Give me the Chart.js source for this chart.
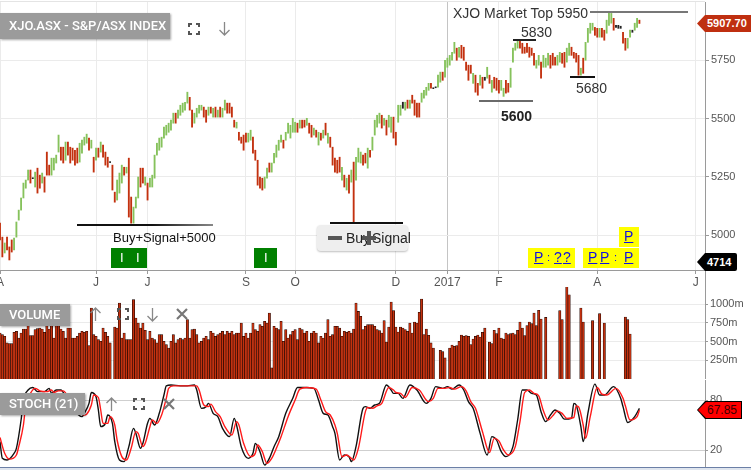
<!DOCTYPE html>
<html><head><meta charset="utf-8">
<script src="https://cdn.jsdelivr.net/npm/chart.js@4.4.1/dist/chart.umd.min.js"></script>
<style>
html,body{margin:0;padding:0;background:#fff;width:751px;height:470px;overflow:hidden;font-family:"Liberation Sans",Arial,sans-serif;}
canvas{position:absolute;left:0;}
.abs{position:absolute;}
.lbl{position:absolute;left:0;background:#9b9b9b;color:#fff;font:500 13px Roboto,"Liberation Sans",sans-serif;padding-left:9px;box-sizing:border-box;box-shadow:1px 1px 2px rgba(0,0,0,.35);white-space:nowrap;}
.txt{position:absolute;white-space:nowrap;color:#333;font-size:14px;line-height:14px;}
.hl{position:absolute;height:2px;}
.tag{position:absolute;color:#fff;font-weight:bold;font-size:11px;line-height:17px;box-sizing:border-box;padding-left:10px;clip-path:polygon(0 50%,8px 0,100% 0,100% 100%,8px 100%);}
.gbox{position:absolute;background:#008000;height:20px;top:248px;}
.ybox{position:absolute;background:#ffff00;height:20px;}
.gi{position:absolute;color:#fff;font-size:13px;line-height:20px;top:0;}
.yp{position:absolute;color:#1010e0;font-size:14px;line-height:18px;top:0;text-decoration:underline;}
</style></head><body>
<canvas id="cPrice" width="751" height="290" style="top:0"></canvas>
<canvas id="cVol" width="751" height="92" style="top:287px"></canvas>
<canvas id="cSto" width="751" height="90" style="top:380px"></canvas>

<div class="abs" style="left:0;top:1px;width:705px;height:1px;background:#e4e4e4"></div>
<div class="abs" style="left:705px;top:270px;width:1px;height:17px;background:#999"></div>

<!-- panel labels -->
<div class="lbl" style="top:13px;width:170px;height:26px;line-height:26px">XJO.ASX - S&amp;P/ASX INDEX</div>
<svg class="abs" style="left:188px;top:23px" width="12" height="12"><path d="M1 4V1H4M8 1H11V4M11 8V11H8M4 11H1V8" fill="none" stroke="#555" stroke-width="2"/></svg>
<svg class="abs" style="left:218px;top:21px" width="13" height="15"><path d="M6.5 1V14M1.5 9L6.5 14L11.5 9" fill="none" stroke="#888" stroke-width="1.3"/></svg>

<div class="lbl" style="top:304px;width:70px;height:22px;line-height:22px">VOLUME</div>
<svg class="abs" style="left:89px;top:307px" width="13" height="15"><path d="M6.5 14V1M1.5 6L6.5 1L11.5 6" fill="none" stroke="#888" stroke-width="1.3"/></svg>
<svg class="abs" style="left:117px;top:308px" width="12" height="12"><path d="M1 4V1H4M8 1H11V4M11 8V11H8M4 11H1V8" fill="none" stroke="#555" stroke-width="2"/></svg>
<svg class="abs" style="left:146px;top:307px" width="13" height="15"><path d="M6.5 1V14M1.5 9L6.5 14L11.5 9" fill="none" stroke="#888" stroke-width="1.3"/></svg>
<svg class="abs" style="left:176px;top:308px" width="12" height="12"><path d="M1 1L11 11M11 1L1 11" fill="none" stroke="#777" stroke-width="2.2"/></svg>

<div class="lbl" style="top:393px;width:85px;height:22px;line-height:22px">STOCH (21)</div>
<svg class="abs" style="left:105px;top:397px" width="13" height="15"><path d="M6.5 14V1M1.5 6L6.5 1L11.5 6" fill="none" stroke="#888" stroke-width="1.3"/></svg>
<svg class="abs" style="left:133px;top:398px" width="12" height="12"><path d="M1 4V1H4M8 1H11V4M11 8V11H8M4 11H1V8" fill="none" stroke="#555" stroke-width="2"/></svg>
<svg class="abs" style="left:163px;top:398px" width="12" height="12"><path d="M1 1L11 11M11 1L1 11" fill="none" stroke="#777" stroke-width="2.2"/></svg>

<!-- annotations -->
<div class="txt" style="left:453px;top:6px;font-size:14px">XJO Market Top 5950</div>
<div class="hl" style="left:590px;top:11px;width:98px;background:#777"></div>
<div class="txt" style="left:521px;top:25px">5830</div>
<div class="hl" style="left:513px;top:39px;width:23px;background:#222;height:1.5px"></div>
<div class="hl" style="left:479px;top:100px;width:54px;background:#6a6a6a"></div>
<div class="txt" style="left:501px;top:109px;font-weight:bold;color:#222">5600</div>
<div class="hl" style="left:570px;top:76px;width:25px;background:#111;height:1.5px"></div>
<div class="txt" style="left:576px;top:81px">5680</div>
<div class="hl" style="left:77px;top:224px;width:136px;background:linear-gradient(90deg,#111,#111 55%,#888)"></div>
<div class="txt" style="left:113px;top:231px;font-size:13px;color:#111">Buy+Signal+5000</div>

<div class="hl" style="left:330px;top:222px;width:73px;background:#111;height:1.5px"></div>
<div class="abs" style="left:317px;top:225px;width:91px;height:26px;background:#eeeeee;border-radius:4px;box-shadow:0 1px 2px rgba(0,0,0,.25)"></div>
<div class="abs" style="left:328px;top:236px;width:14px;height:4px;background:#555"></div>
<div class="txt" style="left:346px;top:231px;color:#222">Buy</div>
<div class="txt" style="left:372px;top:231px;color:#222">Signal</div>
<div class="abs" style="left:362px;top:236px;width:14px;height:4px;background:#555"></div>
<div class="abs" style="left:367px;top:231px;width:4px;height:14px;background:#555"></div>

<div class="gbox" style="left:111px;width:36px"><span class="gi" style="left:9px">I</span><span class="gi" style="left:25px">I</span></div>
<div class="gbox" style="left:254px;width:23px"><span class="gi" style="left:10px">I</span></div>

<div class="ybox" style="left:528px;top:248px;width:47px"><span class="yp" style="left:6px">P</span><span class="yp" style="left:19px;text-decoration:none;font-size:11px">:</span><span class="yp" style="left:26px">?</span><span class="yp" style="left:35px">?</span></div>
<div class="ybox" style="left:583px;top:248px;width:56px"><span class="yp" style="left:5px">P</span><span class="yp" style="left:17px">P</span><span class="yp" style="left:31px;text-decoration:none;font-size:11px">:</span><span class="yp" style="left:41px">P</span></div>
<div class="ybox" style="left:619px;top:227px;width:20px"><span class="yp" style="left:5px">P</span></div>

<!-- value tags -->
<div class="tag" style="left:697px;top:15px;width:54px;height:17px;background:#bf2f10">5907.70</div>
<div class="tag" style="left:697px;top:253px;width:40px;height:18px;line-height:18px;background:#000;border-radius:0 2px 2px 0">4714</div>
<div class="tag" style="left:697px;top:401px;width:45px;height:18px;background:#000"></div>
<div class="tag" style="left:698px;top:402px;width:43px;height:16px;line-height:16px;background:#ff0000;color:#3a0000;font-weight:normal;font-size:12px;padding-left:9px">67.85</div>

<div class="abs" style="left:0;top:467px;width:751px;height:3px;background:#dfe5ee;border-top:1px solid #6b7fa6"></div>

<script>
// ---------- DATA ----------
const monthIdx = [0, 41, 63, 105, 126, 169, 191, 213, 255, 297];
const monthLbl = ['A', 'J', 'J', 'S', 'O', 'D', '2017', 'F', 'A', 'J'];
const slotMax = 301;

const highs = [5051,4991,4966,4991,4949,4979,4987,5056,5107,5159,
5223,5236,5279,5279,5246,5270,5287,5257,5266,5249,
5356,5300,5330,5330,5343,5429,5377,5377,5399,5399,
5377,5373,5364,5373,5394,5407,5420,5433,5416,5407,
5334,5373,5373,5399,5386,5356,5334,5315,5300,5184,
5236,5266,5300,5291,5291,5330,5163,5120,5163,5249,
5287,5287,5249,5223,5244,5257,5343,5394,5416,5420,
5463,5471,5480,5493,5523,5523,5536,5557,5566,5570,
5613,5591,5536,5523,5544,5557,5557,5549,5536,5549,
5549,5544,5549,5536,5549,5544,5579,5566,5566,5549,
5493,5484,5441,5420,5429,5437,5437,5450,5420,5364,
5321,5249,5244,5249,5287,5309,5309,5351,5386,5407,
5429,5407,5441,5480,5471,5501,5484,5480,5493,5493,
5493,5501,5480,5471,5459,5450,5441,5437,5450,5480,
5437,5420,5377,5330,5321,5334,5291,5257,5244,5257,
5279,5313,5334,5373,5356,5343,5351,5373,5364,5420,
5493,5514,5523,5514,5501,5493,5514,5506,5506,5441,
5557,5557,5570,5570,5579,5579,5600,5579,5566,5566,
5609,5621,5634,5651,5651,5632,5636,5686,5699,5699,
5750,5759,5771,5784,5827,5802,5806,5814,5806,5742,
5729,5729,5694,5686,5651,5686,5677,5677,5720,5686,
5664,5677,5673,5664,5664,5630,5664,5651,5716,5802,
5823,5836,5836,5823,5806,5823,5806,5802,5780,5750,
5771,5742,5771,5759,5780,5771,5780,5763,5771,5784,
5780,5784,5802,5823,5806,5784,5780,5771,5716,5759,
5827,5887,5909,5909,5891,5887,5887,5887,5879,5922,
5951,5951,5930,5900,5900,5896,5870,5844,5844,5879,
5879,5909,5930,5922];

const lows = [4979,4906,4923,4936,4893,4927,4936,4991,5064,5107,
5159,5201,5236,5223,5242,5206,5180,5201,5223,5184,
5257,5257,5257,5279,5309,5356,5321,5309,5321,5343,
5309,5321,5300,5309,5313,5351,5386,5394,5364,5373,
5270,5321,5334,5356,5334,5300,5291,5311,5193,5141,
5150,5180,5223,5257,5266,5077,5051,5051,5116,5159,
5206,5223,5214,5150,5206,5206,5244,5343,5364,5377,
5416,5429,5441,5450,5480,5480,5501,5514,5527,5536,
5566,5536,5463,5480,5506,5523,5536,5506,5484,5514,
5523,5506,5506,5506,5506,5506,5536,5523,5523,5506,
5463,5459,5407,5394,5364,5399,5399,5407,5351,5321,
5214,5201,5193,5201,5244,5270,5270,5309,5334,5364,
5399,5373,5407,5437,5416,5441,5441,5441,5459,5459,
5463,5471,5437,5420,5429,5420,5386,5407,5416,5429,
5394,5377,5300,5270,5266,5270,5236,5206,5193,5180,
5227,5051,5236,5313,5309,5300,5309,5287,5334,5364,
5429,5463,5480,5459,5471,5429,5463,5441,5416,5386,
5484,5514,5544,5536,5544,5544,5566,5514,5506,5506,
5570,5587,5600,5621,5630,5628,5632,5634,5656,5664,
5677,5720,5729,5750,5780,5750,5763,5759,5750,5707,
5664,5694,5651,5613,5600,5643,5630,5664,5673,5651,
5613,5630,5621,5609,5621,5595,5609,5613,5634,5742,
5793,5802,5802,5780,5780,5784,5763,5771,5729,5716,
5729,5673,5720,5720,5729,5716,5729,5729,5729,5742,
5737,5720,5742,5771,5771,5759,5742,5686,5686,5694,
5750,5827,5866,5879,5857,5849,5849,5849,5836,5866,
5900,5909,5879,5891,5887,5887,5823,5793,5802,5849,
5870,5879,5891,5908];

// G = up bar, R = down bar, D = unchanged
const dirs = "RRGRRRGGGG" + "GGGRDGRRGR" + "RRGGGGRRGR" + "RRRRGGGGRG" + "RGRGRRRDRR" +
  "GGGRGRRGGG" + "RRGRGGGGGG" + "GGGGGRGGGG" + "GRRGGGGRRG" + "RGRGRGGRRR" +
  "RGRRRRGGRR" + "RRRGGRGGGG" + "GRGGGGGRGR" + "RGRRGRGRGR" + "GRRRRRGRGR" +
  "GRGGGRRGRG" + "GGGRGRGGRR" + "GGDGRGRRRR" + "GGGGRDDGGR" + "GGGGGRGRRR" +
  "RRGRRGRDGR" + "GRRRGGRRGG" + "GGRRRRRRRG" + "GRGGGRRRGG" + "RRGGRRRRGR" +
  "GGGGRRGRRG" + "GGRDDDRRGG" + "DGGR";

// volume in millions (null = no volume bar)
const volumes = [614,592,569,481,472,472,623,636,547,614,
667,667,725,578,580,658,671,680,667,623,
711,667,769,547,711,711,667,636,547,680,
680,547,547,569,614,636,623,636,445,947,
592,569,525,503,680,623,569,481,null,694,
680,1013,547,614,525,525,525,1058,814,747,
680,747,649,525,636,547,525,481,592,592,
503,458,414,503,592,481,525,547,525,547,
791,547,658,667,592,481,503,547,569,525,
636,614,569,592,614,636,592,636,614,636,
592,614,614,747,569,614,547,614,747,658,
636,725,703,769,747,880,148,703,680,658,
769,503,658,547,592,636,658,525,680,658,
614,636,503,614,636,614,481,569,547,614,
791,569,592,703,703,680,569,636,623,636,
614,667,1013,902,836,658,703,725,725,725,
703,658,645,614,778,494,694,1027,911,694,
627,694,680,658,636,747,614,760,747,889,
1067,592,667,583,481,414,null,null,383,365,
281,null,414,454,436,445,503,587,569,578,
569,458,534,569,587,560,623,680,null,494,
472,649,605,680,547,534,614,592,605,614,
592,649,760,680,578,711,760,738,880,711,
916,800,null,822,null,null,null,null,null,911,
791,null,1250,1124,null,null,null,null,947,760,
null,null,null,778,null,null,871,null,747,null,
null,null,null,null,null,null,null,827,791,600,
null,null,null,null];

// stochastic (21): %K (black) and %D (red), by bar index
const kIdx = [0,1,3,6,7,9,10,12,14,16,19,21,22,24,26,28,31,35,36,38,39,41,42,43,45,46,48,49,51,53,55,57,58,60,61,63,64,66,68,70,71,73,77,80,83,84,86,88,89,91,93,95,98,100,101,103,106,108,109,111,113,115,117,119,122,125,127,130,134,136,138,140,142,143,145,147,149,150,152,155,156,158,160,162,165,167,168,170,172,175,178,182,184,186,189,191,193,196,198,200,202,205,208,210,212,214,216,219,221,223,225,227,229,231,233,235,237,239,241,244,245,246,248,249,251,254,256,258,262,265,266,268,271,273];
const kVal = [30,10,8,16,22,56,80,92,95,90,90,94,88,92,92,84,70,60,64,76,89,84,68,48,52,62,52,30,8,6,24,46,40,22,28,52,58,50,64,86,97,98,97,97,98,92,70,72,76,64,60,46,36,58,50,24,10,16,28,18,2,10,24,36,64,82,95,95,94,80,64,62,48,40,8,14,12,6,24,70,72,70,74,76,98,92,88,88,82,98,92,76,82,96,94,96,93,98,92,78,70,40,14,36,32,18,12,24,56,92,92,88,86,66,54,62,68,64,57,58,76,74,48,30,64,99,86,86,96,82,72,53,60,70];
const dIdx = [0,2,4,7,8,10,11,13,15,17,20,22,23,25,27,29,32,36,37,39,40,42,43,44,46,47,49,50,52,54,56,58,59,61,62,64,65,67,69,71,72,74,78,81,84,85,87,89,90,92,94,96,99,101,102,104,107,109,110,112,114,116,118,120,123,126,128,131,135,137,139,141,143,144,146,148,150,151,153,156,157,159,161,163,166,168,169,171,173,176,179,183,185,187,190,192,194,197,199,201,203,206,209,211,213,215,217,220,222,224,226,228,230,232,234,236,238,240,242,245,246,247,249,250,252,255,257,259,263,266,267,269,272,273];
const dVal = [35,16,9,14,24,50,74,88,94,91,90,92,89,91,91,84,70,62,63,74,86,83,68,52,52,60,50,32,12,8,22,42,40,24,28,48,56,52,62,82,94,97,97,97,97,92,74,72,75,66,60,48,38,54,50,28,12,16,26,18,4,10,22,36,60,80,93,95,93,80,66,62,50,40,12,14,10,8,22,66,71,70,73,76,95,92,89,88,83,95,92,78,82,94,94,95,93,96,91,78,70,42,17,34,31,20,14,24,54,89,92,88,85,67,56,61,67,64,58,59,73,72,50,34,60,95,87,86,94,82,73,56,60,67.85];

const priceTicks = [5000, 5250, 5500, 5750];
const volTicks = [250, 500, 750, 1000];
const stochTicks = [20, 80];

// ---------- STYLE ----------
const GREEN = '#86c25c', RED = '#c3310f', GRID = '#ebebeb', AXIS = '#9a9a9a', TXT = '#555';
const FONT = '"Liberation Sans", Arial, sans-serif';
Chart.defaults.font.family = FONT;

function fixPad(s) { s.paddingLeft = 0; s.paddingRight = 0; s.paddingTop = 0; s.paddingBottom = 0; }
function yRight(min, max, ticks, fmt, tl) {
  return {
    position: 'right', min, max,
    afterBuildTicks: s => { s.ticks = ticks.map(v => ({ value: v })); },
    afterFit: s => { s.width = 46; fixPad(s); },
    ticks: { color: TXT, font: { size: 11 }, padding: 2, callback: fmt, autoSkip: false },
    grid: { color: GRID, tickColor: AXIS, tickLength: tl },
    border: { color: AXIS }
  };
}
function xHidden() {
  return { type: 'linear', min: 0, max: slotMax, offset: false, display: false, afterFit: s => { s.height = 0; fixPad(s); } };
}
const common = {
  responsive: false, maintainAspectRatio: false, animation: false,
  plugins: { legend: { display: false }, tooltip: { enabled: false } }
};

// price chart
new Chart(document.getElementById('cPrice'), {
  type: 'bar',
  data: { datasets: [{
    data: highs.map((h, i) => ({ x: i, y: [lows[i], h] })),
    backgroundColor: dirs.split('').map(c => c === 'G' ? GREEN : c === 'R' ? RED : '#222'),
    barThickness: 1.2, borderWidth: 0
  }]},
  options: Object.assign({}, common, {
    layout: { padding: { top: 2, left: 0, right: 0, bottom: 0 } },
    scales: {
      x: {
        type: 'linear', min: 0, max: slotMax, offset: false,
        afterBuildTicks: s => { s.ticks = monthIdx.map(v => ({ value: v })); },
        afterFit: s => { s.height = 20; fixPad(s); },
        ticks: { autoSkip: false, maxRotation: 0, color: TXT, font: { size: 12 }, padding: 1,
                 callback: (v, i) => monthLbl[i] },
        grid: { offset: false, color: c => (c.tick && c.tick.value === 191) ? '#c4c4c4' : GRID, tickColor: AXIS, tickLength: 4 },
        border: { color: AXIS }
      },
      y: yRight(4850, 6000, priceTicks, v => String(v), 4)
    }
  })
});

// volume chart
new Chart(document.getElementById('cVol'), {
  type: 'bar',
  data: { datasets: [{
    data: volumes.map((v, i) => ({ x: i, y: v })).filter(p => p.y !== null),
    backgroundColor: RED, borderColor: '#1a0500', borderWidth: 0.6, barThickness: 2.35
  }]},
  options: Object.assign({}, common, {
    layout: { padding: 0 },
    scales: { x: xHidden(), y: yRight(0, 1227, volTicks, v => v + 'm', 3) }
  })
});

// stochastic chart
new Chart(document.getElementById('cSto'), {
  type: 'line',
  data: { datasets: [
    { data: dIdx.map((x, i) => ({ x, y: dVal[i] })), borderColor: '#ff1a1a', borderWidth: 1.4, pointRadius: 0, cubicInterpolationMode: 'monotone' },
    { data: kIdx.map((x, i) => ({ x, y: kVal[i] })), borderColor: '#111', borderWidth: 1.4, pointRadius: 0, cubicInterpolationMode: 'monotone' }
  ]},
  options: Object.assign({}, common, {
    layout: { padding: 0 },
    scales: {
      x: xHidden(),
      y: Object.assign(yRight(-4, 104, stochTicks, v => String(v), 3), { grid: { color: '#cfcfcf', tickColor: AXIS, tickLength: 3 } })
    }
  })
});
</script>
</body></html>
